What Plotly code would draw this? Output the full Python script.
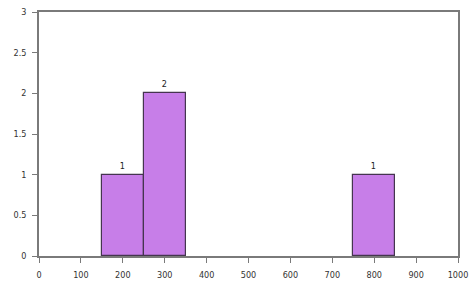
import plotly.graph_objects as go

bin_centers = [200, 300, 800]
bin_width = 100
counts = [1, 2, 1]
labels = ["1", "2", "1"]

x_ticks = [0, 100, 200, 300, 400, 500, 600, 700, 800, 900, 1000]
y_ticks = [0, 0.5, 1, 1.5, 2, 2.5, 3]

FONT = "DejaVu Sans Condensed, DejaVu Sans"

fig = go.Figure()
fig.add_trace(go.Bar(
    x=bin_centers, y=counts, width=[bin_width] * len(counts),
    text=labels, textposition="outside", cliponaxis=False,
    textfont=dict(size=9, color="#222", family=FONT),
    marker=dict(color="#c77ee8", line=dict(color="#45354f", width=1.2)),
))

axis_common = dict(
    showgrid=False, zeroline=False, showline=True, linecolor="#7a7a7a", linewidth=1.6,
    mirror=True, ticks="outside", ticklen=5, tickcolor="#7a7a7a", automargin=False,
    tickfont=dict(size=9, color="#333", family=FONT),
)
fig.update_xaxes(range=[0, 1000], tickvals=x_ticks, ticklabelstandoff=4, **axis_common)
fig.update_yaxes(range=[0, 3], tickvals=y_ticks, ticktext=[f"{v:g}" for v in y_ticks],
                 ticklabelstandoff=4, **axis_common)

fig.update_layout(
    width=474, height=284,
    margin=dict(l=39, r=16, t=12, b=28),
    paper_bgcolor="white", plot_bgcolor="white",
    showlegend=False, bargap=0,
)
fig.write_html("out.html")
